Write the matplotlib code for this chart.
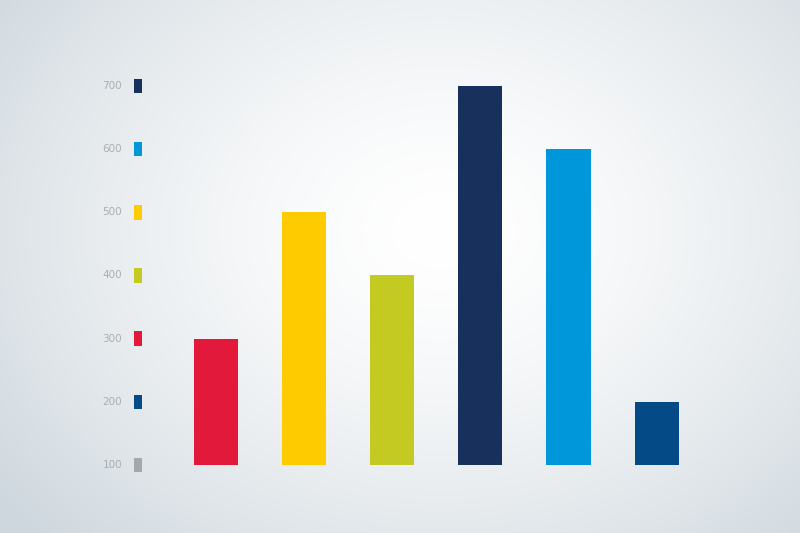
import numpy as np
import matplotlib
matplotlib.use("Agg")
import matplotlib.pyplot as plt
from matplotlib.patches import Rectangle
from matplotlib.transforms import blended_transform_factory

# Data
categories = ["A", "B", "C", "D", "E", "F"]
values = [300, 500, 400, 700, 600, 200]
bar_colors = ["#e3193b", "#fecb00", "#c3cb23", "#17305c", "#0096da", "#034a86"]
tick_values = [100, 200, 300, 400, 500, 600, 700]
tick_labels = ["100", "200", "300", "400", "500", "600", "700"]
tick_colors = ["#a5a7aa", "#034a86", "#e3193b", "#c3cb23", "#fecb00", "#0096da", "#17305c"]
base = 100

W, H = 800, 533
fig = plt.figure(figsize=(W / 100, H / 100), dpi=100)

# background radial gradient
bg = fig.add_axes([0, 0, 1, 1], zorder=-1)
yy, xx = np.mgrid[0:H, 0:W]
cx, cy = 440, 230
d = np.sqrt(((xx - cx) / 560.0) ** 2 + ((yy - cy) / 440.0) ** 2)
d = np.clip(d, 0, 1)
inner = np.array([1.0, 1.0, 1.0])
outer = np.array([0.81, 0.845, 0.87])
t = d[..., None] ** 1.5
img = inner * (1 - t) + outer * t
bg.imshow(img, extent=[0, 1, 0, 1], aspect="auto", origin="upper")
bg.axis("off")

# main axes
y0 = (H - 465) / H
y1 = (H - 86) / H
x0 = 172.0 / W
x1 = 700.7 / W
ax = fig.add_axes([x0, y0, x1 - x0, y1 - y0])
ax.patch.set_alpha(0)
x = np.arange(len(categories))
ax.bar(x, [v - base for v in values], bottom=base, width=0.5, color=bar_colors)
ax.set_xlim(-0.5, len(categories) - 0.5)
ax.set_ylim(100, 700)
ax.set_xticks([])
ax.set_yticks([])
for s in ax.spines.values():
    s.set_visible(False)

tr = blended_transform_factory(fig.transFigure, ax.transData)
for v, lab, c in zip(tick_values, tick_labels, tick_colors):
    ax.text(122 / W, v, lab, transform=tr, ha="right", va="center",
            fontsize=7.5, color="#a9aeb3",
            family=["Liberation Sans Narrow", "DejaVu Sans"], clip_on=False)
    ax.add_patch(Rectangle((134 / W, v - 11.5), 8 / W, 23, transform=tr,
                           facecolor=c, edgecolor="none", clip_on=False))

fig.savefig("out.png", dpi=100)
